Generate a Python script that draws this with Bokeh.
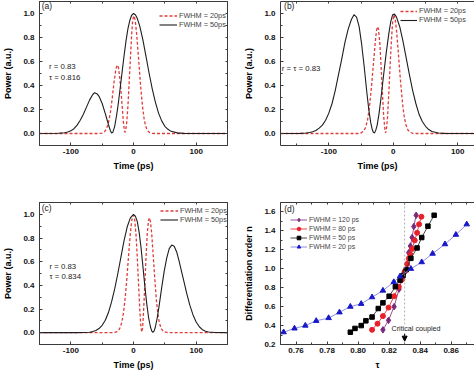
from bokeh.plotting import figure
from bokeh.layouts import column, row
from bokeh.models import (Range1d, LinearAxis, FixedTicker, Legend, LegendItem, Label,
                          Span, Arrow, NormalHead, NumeralTickFormatter)
from bokeh.embed import file_html
from bokeh.resources import INLINE

# ---------------- data ----------------
# panel (a): r = 0.83, tau = 0.816
a_t20 = [-150, -55, -50, -46, -43, -40, -37, -34, -31, -28, -26, -24, -22, -20, -18, -16, -14.5, -13,
         -11, -9, -7, -5, -3, -1.5, 0, 1.5, 3, 5, 7, 9, 11, 13, 15, 17, 19, 21, 23, 26, 30, 35, 150]
a_p20 = [0, 0, 0.004, 0.015, 0.04, 0.09, 0.17, 0.29, 0.43, 0.54, 0.57, 0.55, 0.47, 0.36, 0.22, 0.09, 0.02, 0.01,
         0.08, 0.22, 0.42, 0.62, 0.82, 0.93, 0.98, 0.97, 0.93, 0.83, 0.70, 0.56, 0.42, 0.30, 0.20, 0.12, 0.07,
         0.04, 0.02, 0.007, 0.001, 0, 0]
a_t50 = [-150, -120, -110, -105, -100, -95, -90, -85, -80, -75, -70, -65, -62, -58, -55, -50, -45, -40, -37,
         -35, -33, -30, -27, -24, -21, -18, -15, -12, -9, -6, -3, 0, 3, 6, 10, 15, 20, 25, 30, 35, 40, 45, 50,
         55, 60, 70, 80, 150]
a_p50 = [0, 0.002, 0.006, 0.012, 0.022, 0.04, 0.07, 0.11, 0.16, 0.22, 0.28, 0.325, 0.34, 0.33, 0.31, 0.25,
         0.165, 0.075, 0.025, 0.005, 0.01, 0.06, 0.15, 0.26, 0.39, 0.52, 0.65, 0.77, 0.87, 0.94, 0.985, 1.0,
         0.99, 0.96, 0.895, 0.78, 0.64, 0.5, 0.37, 0.26, 0.17, 0.105, 0.06, 0.035, 0.018, 0.005, 0.001, 0]

# panel (b): r = tau = 0.83
b_t20 = [-175, -55, -50, -46, -43, -40, -37, -34, -31, -28, -26, -24.5, -23, -21, -19, -17, -15, -13, -12,
         -11, -9, -7, -5, -3, -1, 1, 3, 5, 7, 9, 11, 13, 15, 17, 19, 21, 23, 26, 30, 35, 126]
b_p20 = [0, 0, 0.005, 0.02, 0.05, 0.11, 0.22, 0.38, 0.57, 0.76, 0.86, 0.89, 0.87, 0.76, 0.57, 0.35, 0.15,
         0.03, 0.005, 0.02, 0.13, 0.33, 0.56, 0.77, 0.93, 0.99, 0.95, 0.86, 0.73, 0.59, 0.45, 0.33, 0.22,
         0.14, 0.085, 0.05, 0.027, 0.01, 0.002, 0, 0]
b_t50 = [-175, -145, -135, -130, -125, -120, -115, -110, -105, -100, -95, -90, -85, -80, -75, -70, -65, -61,
         -57, -53, -49, -45, -41, -38, -35, -33, -31, -29, -27, -25, -22, -19, -15, -11, -7, -4, -1, 2, 5,
         10, 15, 20, 25, 30, 35, 40, 45, 50, 55, 60, 70, 80, 126]
b_p50 = [0, 0.001, 0.004, 0.008, 0.015, 0.025, 0.045, 0.07, 0.11, 0.17, 0.25, 0.36, 0.49, 0.62, 0.76, 0.87,
         0.95, 0.99, 0.97, 0.89, 0.74, 0.55, 0.34, 0.2, 0.09, 0.04, 0.01, 0.005, 0.03, 0.07, 0.17, 0.30, 0.49,
         0.67, 0.83, 0.93, 0.99, 0.995, 0.97, 0.89, 0.77, 0.63, 0.49, 0.36, 0.25, 0.16, 0.10, 0.06, 0.033,
         0.017, 0.004, 0.001, 0]

# panel (c): r = 0.83, tau = 0.834
c_t20 = [-150, -35, -30, -26, -23, -21, -19, -17, -15, -13, -11, -9, -7, -5, -3, -1, 0.5, 2, 4, 6, 8, 10,
         11.5, 13, 14.5, 16, 18, 20, 22, 24, 25.5, 27, 29, 31, 33, 35, 37, 39, 41, 44, 48, 55, 150]
c_p20 = [0, 0, 0.002, 0.009, 0.026, 0.047, 0.082, 0.135, 0.21, 0.31, 0.43, 0.57, 0.71, 0.84, 0.94, 0.99,
         0.99, 0.95, 0.83, 0.64, 0.42, 0.2, 0.07, 0.005, 0.04, 0.17, 0.40, 0.64, 0.84, 0.95, 0.97, 0.94,
         0.84, 0.69, 0.53, 0.38, 0.25, 0.155, 0.09, 0.035, 0.008, 0, 0]
c_t50 = [-150, -90, -80, -70, -65, -60, -55, -50, -45, -40, -35, -30, -25, -20, -15, -10, -5, 0, 3, 6, 9,
         12, 15, 18, 21, 24, 27, 29, 31, 33, 35, 38, 41, 45, 49, 53, 57, 61, 65, 69, 73, 77, 81, 85, 90, 95,
         100, 105, 110, 115, 120, 130, 150]
c_p50 = [0, 0, 0.001, 0.004, 0.009, 0.018, 0.035, 0.062, 0.105, 0.17, 0.26, 0.37, 0.5, 0.64, 0.78, 0.895,
         0.97, 1.0, 0.985, 0.94, 0.85, 0.72, 0.56, 0.40, 0.25, 0.13, 0.05, 0.015, 0.003, 0.015, 0.05, 0.13,
         0.23, 0.38, 0.52, 0.63, 0.71, 0.74, 0.73, 0.68, 0.60, 0.51, 0.42, 0.33, 0.23, 0.15, 0.09, 0.05,
         0.025, 0.012, 0.005, 0.001, 0]

# panel (d): differentiation order vs tau
d_tau120 = [0.816, 0.8196, 0.8232, 0.8264, 0.8285, 0.8300, 0.8314, 0.8326, 0.8337, 0.8348, 0.8359, 0.8374]
d_n120 = [0.355, 0.455, 0.60, 0.785, 0.89, 0.97, 1.05, 1.17, 1.24, 1.33, 1.446, 1.565]
d_tau80 = [0.809, 0.8125, 0.816, 0.8196, 0.8232, 0.8262, 0.8285, 0.8300, 0.8316, 0.8327, 0.8337, 0.8348,
           0.8365, 0.838, 0.8393, 0.8408]
d_n80 = [0.355, 0.42, 0.50, 0.59, 0.71, 0.81, 0.89, 0.97, 1.05, 1.11, 1.15, 1.21, 1.30, 1.38, 1.47, 1.55]
d_tau50 = [0.795, 0.798, 0.802, 0.805, 0.809, 0.813, 0.816, 0.820, 0.824, 0.827, 0.829, 0.831, 0.834,
           0.838, 0.841, 0.845, 0.849]
d_n50 = [0.33, 0.37, 0.40, 0.45, 0.49, 0.58, 0.64, 0.71, 0.81, 0.88, 0.93, 0.99, 1.11, 1.22, 1.33, 1.45, 1.565]
d_tau20 = [0.752, 0.759, 0.766, 0.773, 0.781, 0.788, 0.795, 0.802, 0.809, 0.816, 0.823, 0.827, 0.834,
           0.841, 0.848, 0.856, 0.863, 0.870]
d_n20 = [0.33, 0.37, 0.40, 0.45, 0.48, 0.54, 0.60, 0.63, 0.70, 0.77, 0.86, 0.92, 1.00, 1.07, 1.16, 1.26,
         1.36, 1.47]

time_ticks = [-100, 0, 100]
time_minor = [-150, -50, 50, 150]
power_ticks = [0.0, 0.2, 0.4, 0.6, 0.8, 1.0]
power_minor = [0.1, 0.3, 0.5, 0.7, 0.9]
tau_ticks = [0.76, 0.78, 0.80, 0.82, 0.84, 0.86]
tau_minor = [0.75, 0.77, 0.79, 0.81, 0.83, 0.85, 0.87]
n_ticks = [0.2, 0.4, 0.6, 0.8, 1.0, 1.2, 1.4, 1.6]
n_minor = [0.3, 0.5, 0.7, 0.9, 1.1, 1.3, 1.5]

FONT = "Liberation Sans"
AXC = "#3a3a3a"
RED = "#e03c3c"
BLK = "#1e1e1e"


def style_axis(ax, fmt):
    ax.major_tick_in = 3
    ax.major_tick_out = 0
    ax.minor_tick_in = 2
    ax.minor_tick_out = 0
    ax.axis_line_color = AXC
    ax.major_tick_line_color = AXC
    ax.minor_tick_line_color = AXC
    ax.formatter = NumeralTickFormatter(format=fmt)
    ax.major_label_text_font = FONT
    ax.major_label_text_font_style = "bold"
    ax.major_label_text_font_size = "8px"
    ax.major_label_text_color = "#111111"
    ax.axis_label_text_font = FONT
    ax.axis_label_text_font_style = "bold"
    ax.axis_label_text_font_size = "9px"
    ax.axis_label_text_color = "#000000"


def mirror_axis(p, ticks, minor, side):
    # ticks only (every position as a label-less minor tick), no labels at all
    ax = LinearAxis(ticker=FixedTicker(ticks=[], minor_ticks=sorted(ticks + minor)))
    ax.minor_tick_in = 2
    ax.minor_tick_out = 0
    ax.major_tick_in = 0
    ax.major_tick_out = 0
    ax.axis_line_color = AXC
    ax.minor_tick_line_color = AXC
    ax.major_label_standoff = 0
    ax.axis_label = None
    p.add_layout(ax, side)


def make_fig(w, h, bl, br, bt, bb, xr, yr, xt, xm, yt, ym, xfmt, yfmt, xlabel, ylabel, right_axis):
    p = figure(width=w, height=h, x_range=Range1d(*xr), y_range=Range1d(*yr),
               output_backend="svg", toolbar_location=None,
               min_border_left=bl, min_border_right=br, min_border_top=bt, min_border_bottom=bb)
    p.xgrid.visible = False
    p.ygrid.visible = False
    p.background_fill_color = "white"
    p.border_fill_color = "white"
    p.outline_line_color = AXC if right_axis else None
    p.xaxis.ticker = FixedTicker(ticks=xt, minor_ticks=xm)
    p.yaxis.ticker = FixedTicker(ticks=yt, minor_ticks=ym)
    p.xaxis.axis_label = xlabel
    p.yaxis.axis_label = ylabel
    for ax in p.xaxis:
        style_axis(ax, xfmt)
        ax.major_label_standoff = 3
        ax.axis_label_standoff = 4
    for ax in p.yaxis:
        style_axis(ax, yfmt)
        ax.major_label_standoff = 5
        ax.axis_label_standoff = 7
    mirror_axis(p, xt, xm, "above")
    if right_axis:
        mirror_axis(p, yt, ym, "right")
    return p


def add_legend(p, items, loc, size="7.3px", gw=18, gh=9):
    lg = Legend(items=items, location=loc, background_fill_alpha=0, border_line_color=None,
                padding=0, spacing=0, margin=0, label_text_font=FONT, label_text_font_size=size,
                label_height=gh, glyph_height=gh, glyph_width=gw, label_standoff=2)
    p.add_layout(lg)


def add_text(p, x, y, txt, size="7.8px"):
    p.add_layout(Label(x=x, y=y, text=txt, text_font=FONT, text_font_size=size,
                       text_baseline="middle", text_align="left", text_color="#222222"))


def pulse_panel(w, h, bl, br, bt, bb, xr, t20, p20, t50, p50, right_axis, legend_loc, gh, gw):
    p = make_fig(w, h, bl, br, bt, bb, xr, (-0.1, 1.1), time_ticks, time_minor, power_ticks, power_minor,
                 "0", "0.0", "Time (ps)", "Power (a.u.)", right_axis)
    r1 = p.line(t20, p20, line_color=RED, line_width=1.3, line_dash="3 2")
    r2 = p.line(t50, p50, line_color=BLK, line_width=1.1)
    add_legend(p, [LegendItem(label="FWHM = 20ps", renderers=[r1]),
                   LegendItem(label="FWHM = 50ps", renderers=[r2])], legend_loc, gh=gh, gw=gw)
    return p


pa = pulse_panel(237, 186, 34, 10, 1, 41, (-150, 150), a_t20, a_p20, a_t50, a_p50, True, (120, 116), 9, 18)
add_text(pa, -146.5, 1.06, "(a)", "8.5px")
add_text(pa, -135, 0.56, "r = 0.83")
add_text(pa, -135, 0.465, "τ = 0.816")

pb = pulse_panel(237, 186, 43, 0, 1, 41, (-175, 126), b_t20, b_p20, b_t50, b_p50, False, (120, 121), 8, 17)
add_text(pb, -169.5, 1.06, "(b)", "8.5px")
add_text(pb, -173, 0.545, "r = τ = 0.83")

pc = pulse_panel(237, 186, 34, 10, 16, 27, (-150, 150), c_t20, c_p20, c_t50, c_p50, True, (121, 120), 9, 18)
add_text(pc, -146.5, 1.05, "(c)", "8.5px")
add_text(pc, -134, 0.557, "r = 0.83")
add_text(pc, -134, 0.471, "τ = 0.834")

pd = make_fig(237, 186, 43, 0, 16, 27, (0.75, 0.875), (0.2, 1.7), tau_ticks, tau_minor, n_ticks, n_minor,
              "0.00", "0.0", "τ", "Differentiation order n", False)
pd.add_layout(Span(location=0.83, dimension="height", line_color="#9a9a9a", line_width=0.8,
                   line_dash="2 2"))
series = [
    ("FWHM = 120 ps", d_tau120, d_n120, "#8b3a8b", "#7a2a7a", "diamond", 6.5),
    ("FWHM = 80 ps", d_tau80, d_n80, "#e8363c", "#e8202a", "circle", 5),
    ("FWHM = 50 ps", d_tau50, d_n50, "#333333", "#000000", "square", 4.5),
    ("FWHM = 20 ps", d_tau20, d_n20, "#8080e0", "#1818c8", "triangle", 5.5),
]
items = []
for name, xs, ys, lc, mc, mk, ms in series:
    ln = pd.line(xs, ys, line_color=lc, line_width=0.9)
    sc = pd.scatter(xs, ys, marker=mk, size=ms, fill_color=mc, line_color=mc)
    items.append(LegendItem(label=name, renderers=[ln, sc]))
add_legend(pd, items, (10, 93), size="6.9px", gw=17, gh=9)
add_text(pd, 0.7524, 1.63, "(d)", "8.5px")
crit = Label(x=0.8215, y=0.367, text="Critical coupled", text_font=FONT, text_font_size="7.2px",
             text_baseline="middle", text_align="left", text_color="#222222",
             background_fill_color="white")
pd.add_layout(crit)
pd.add_layout(Arrow(end=NormalHead(size=5, fill_color="black", line_color="black"),
                    x_start=0.83, y_start=0.315, x_end=0.83, y_end=0.235,
                    line_color="black", line_width=1))

layout = column(row(pa, pb), row(pc, pd))
open("out.html", "w").write(file_html(layout, INLINE))
